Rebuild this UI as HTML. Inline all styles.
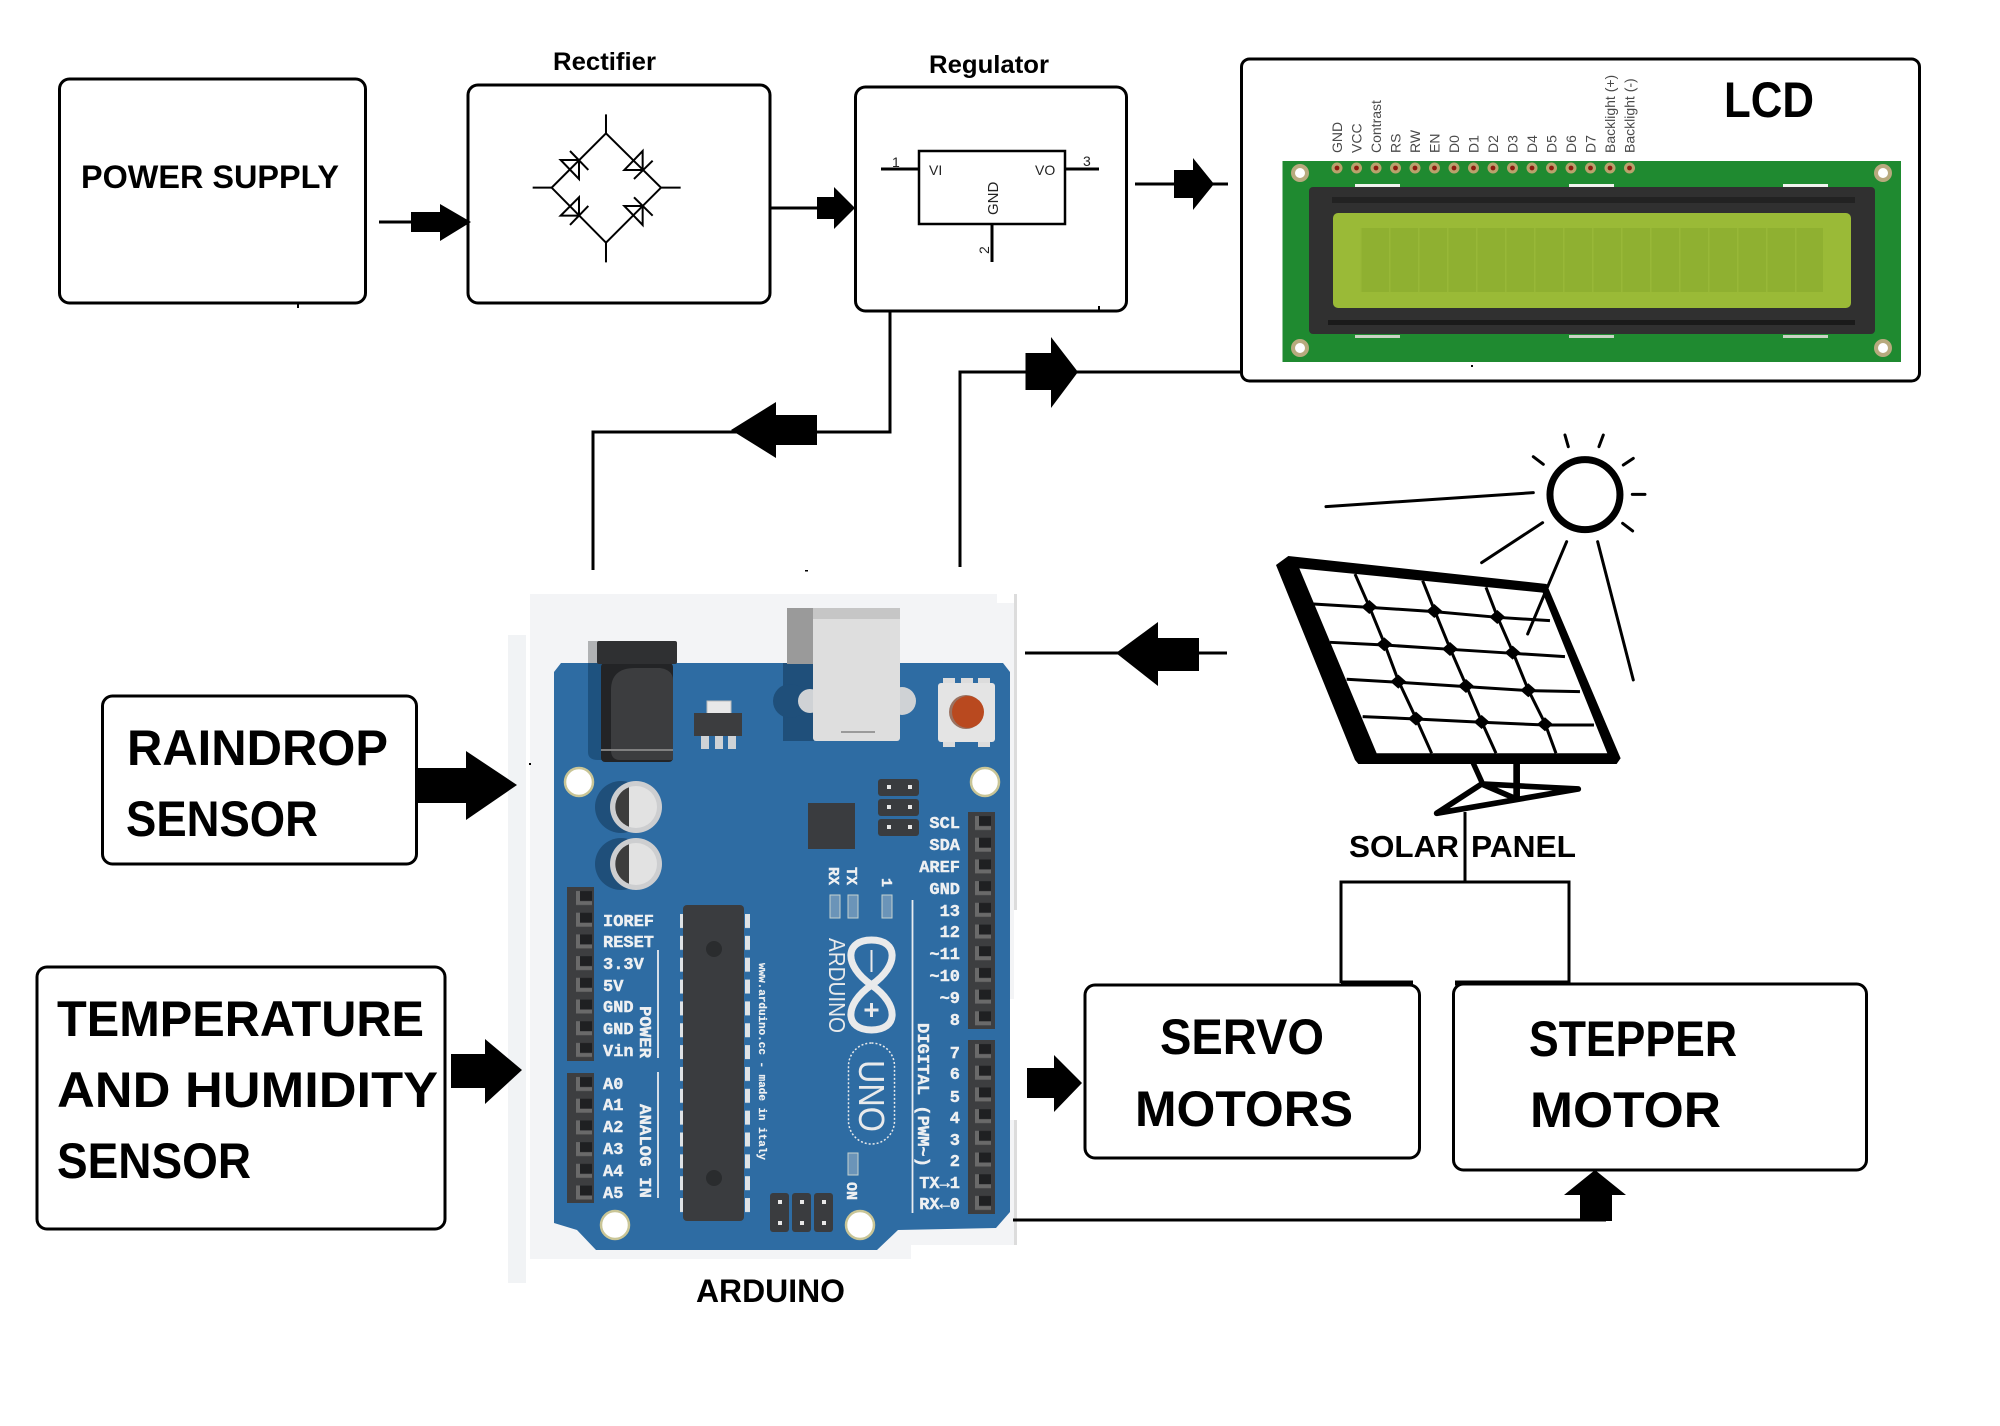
<!DOCTYPE html>
<html lang="en"><head><meta charset="utf-8"><title>Arduino block diagram</title>
<style>html,body{margin:0;padding:0;background:#fff}svg{display:block}
.b{font-family:"Liberation Sans",sans-serif;font-weight:bold;fill:#000}
.m{font-family:"Liberation Mono",monospace;font-weight:bold;fill:#eef0f2;font-size:17px;stroke:#eef0f2;stroke-width:.4}
.e{text-anchor:end}
.l{font-family:"Liberation Sans",sans-serif;font-size:14px;fill:#4a4a4a}
.t{font-family:"Liberation Sans",sans-serif;font-size:15px;fill:#222}
.box{fill:#fff;stroke:#000;stroke-width:3}
.w{fill:none;stroke:#000;stroke-width:3}
</style></head><body>
<svg xmlns="http://www.w3.org/2000/svg" width="2000" height="1426" viewBox="0 0 2000 1426">
<defs>
<pattern id="hd" x="968" y="812" width="27" height="21.7" patternUnits="userSpaceOnUse">
<rect width="27" height="21.7" fill="#3d3e40"/><rect x="7" y="4" width="16" height="14" fill="#6a6a6a"/><rect x="11" y="4" width="12" height="10" fill="#1f2022"/>
</pattern>
<pattern id="hd2" x="968" y="1040" width="27" height="21.7" patternUnits="userSpaceOnUse">
<rect width="27" height="21.7" fill="#3d3e40"/><rect x="7" y="4" width="16" height="14" fill="#6a6a6a"/><rect x="11" y="4" width="12" height="10" fill="#1f2022"/>
</pattern>
<pattern id="hl" x="567" y="887" width="27" height="21.7" patternUnits="userSpaceOnUse">
<rect width="27" height="21.7" fill="#3d3e40"/><rect x="9" y="4" width="16" height="14" fill="#6a6a6a"/><rect x="13" y="4" width="12" height="10" fill="#1f2022"/>
</pattern>
<pattern id="hl2" x="567" y="1073" width="27" height="21.7" patternUnits="userSpaceOnUse">
<rect width="27" height="21.7" fill="#3d3e40"/><rect x="9" y="4" width="16" height="14" fill="#6a6a6a"/><rect x="13" y="4" width="12" height="10" fill="#1f2022"/>
</pattern>
<pattern id="cp" x="680" y="912" width="71" height="21.85" patternUnits="userSpaceOnUse">
<rect x="0" y="2" width="4" height="14" fill="#dfe3e6"/><rect x="65" y="2" width="5" height="14" fill="#dfe3e6"/>
</pattern>
<pattern id="lp" x="1327.5" y="160" width="19.5" height="20" patternUnits="userSpaceOnUse">
<circle cx="9.5" cy="8" r="5.5" fill="#b9a26c"/><circle cx="9.5" cy="8" r="2.4" fill="#8e1c10"/>
</pattern>
<pattern id="st" x="1360" y="228" width="29" height="64" patternUnits="userSpaceOnUse">
<rect width="29" height="64" fill="#8fb031"/><rect x="0" width="1.5" height="64" fill="#98b838"/>
</pattern>
<path id="nd" d="M-24 0L0-21L24 0L0 21Z"/>
</defs>

<rect width="2000" height="1426" fill="#fff"/>

<!-- Power supply -->
<rect class="box" x="59.5" y="79" width="306" height="224" rx="10"/>
<line x1="298" y1="302" x2="298" y2="308" stroke="#000" stroke-width="2"/>
<text class="b" x="81" y="188" font-size="32" textLength="258" lengthAdjust="spacingAndGlyphs">POWER SUPPLY</text>

<!-- Rectifier -->
<text class="b" x="553" y="70" font-size="25" textLength="103" lengthAdjust="spacingAndGlyphs">Rectifier</text>
<rect class="box" x="468" y="85" width="302" height="218" rx="10"/>
<g transform="translate(520,100) scale(.3333)" fill="none" stroke="#000" stroke-width="6">
<path d="M258 43V100L423 263L258 428V487M258 100L95 263L258 428M38 263H95M423 263H482"/>
<path d="M122 180H177V237ZM150 153L205 210M368 153V210H313ZM342 237L398 182M177 292V347H122ZM205 318L150 375M313 318H368V375ZM342 292L398 347"/>
</g>

<!-- Regulator -->
<text class="b" x="929" y="73" font-size="25" textLength="120" lengthAdjust="spacingAndGlyphs">Regulator</text>
<rect class="box" x="855.500" y="87" width="271" height="224" rx="10"/>
<line x1="1099" y1="306" x2="1099" y2="312" stroke="#000" stroke-width="2"/>
<rect x="919" y="151" width="146" height="73" fill="#fff" stroke="#000" stroke-width="2.5"/>
<path d="M881 169H919M1065 169H1099M992 224V262" class="w" stroke-width="2.5"/>
<text class="t" x="892" y="167" style="font-size:14px">1</text>
<text class="t" x="929" y="175" style="font-size:14px">VI</text>
<text class="t" x="1035" y="175" style="font-size:14px">VO</text>
<text class="t" x="1083" y="166" style="font-size:14px">3</text>
<text class="t" transform="translate(998,215) rotate(-90)" style="font-size:15px">GND</text>
<text class="t" transform="translate(989,254) rotate(-90)" style="font-size:14px">2</text>

<!-- top arrows -->
<path d="M379 222H415" class="w" stroke-width="4"/>
<polygon points="411,212 440,212 440,204 471,222 440,241 440,232 411,232"/>
<path d="M770 208H820" class="w" stroke-width="4"/>
<polygon points="817,197 834,197 834,187 855,208 834,229 834,219 817,219"/>
<path d="M1135 184H1228" class="w" stroke-width="3"/>
<polygon points="1174,170 1193,170 1193,158 1214,184 1193,210 1193,198 1174,198"/>

<!-- regulator to Arduino -->
<path d="M890 311V432H593V570" class="w"/>
<polygon points="731,430 776,402 776,415 817,415 817,445 776,445 776,458"/>
<rect x="805" y="570" width="3" height="1.500"/>
<!-- Arduino to LCD -->
<path d="M960 567V372H1241" class="w"/>
<polygon points="1025.500,353 1051,353 1051,337 1078,372 1051,408 1051,390 1025.500,390"/>

<!-- LCD -->
<rect class="box" x="1241.500" y="59" width="678" height="322" rx="8"/>
<rect x="1282.500" y="161" width="618.500" height="201" fill="#1f8a30"/>
<rect x="1309" y="187" width="566" height="147" rx="4" fill="#303030"/>
<rect x="1332" y="197" width="523" height="6" fill="#222"/>
<rect x="1328" y="320" width="527" height="5" fill="#1a1a1a"/>
<rect x="1333" y="213" width="518" height="95" rx="5" fill="#9aba37"/>
<rect x="1360" y="228" width="463" height="64" fill="url(#st)"/>
<g fill="#f1f3ee"><rect x="1355" y="184" width="45" height="3"/><rect x="1569" y="184" width="45" height="3"/><rect x="1783" y="184" width="45" height="3"/></g>
<g fill="#c9d2c4"><rect x="1355" y="335" width="45" height="3"/><rect x="1569" y="335" width="45" height="3"/><rect x="1783" y="335" width="45" height="3"/></g>
<g fill="#fff" stroke="#b8aa7e" stroke-width="4"><circle cx="1300" cy="173" r="7"/><circle cx="1883" cy="173" r="7"/><circle cx="1300" cy="348" r="7"/><circle cx="1883" cy="348" r="7"/></g>
<rect x="1327.5" y="160" width="312" height="20" fill="url(#lp)"/>
<rect x="1471" y="365" width="2" height="2"/>
<text class="l" transform="translate(1342,153) rotate(-90)">GND</text>
<text class="l" transform="translate(1361.5,153) rotate(-90)">VCC</text>
<text class="l" transform="translate(1381,153) rotate(-90)">Contrast</text>
<text class="l" transform="translate(1400.5,153) rotate(-90)">RS</text>
<text class="l" transform="translate(1420,153) rotate(-90)">RW</text>
<text class="l" transform="translate(1439.5,153) rotate(-90)">EN</text>
<text class="l" transform="translate(1459,153) rotate(-90)">D0</text>
<text class="l" transform="translate(1478.5,153) rotate(-90)">D1</text>
<text class="l" transform="translate(1498,153) rotate(-90)">D2</text>
<text class="l" transform="translate(1517.5,153) rotate(-90)">D3</text>
<text class="l" transform="translate(1537,153) rotate(-90)">D4</text>
<text class="l" transform="translate(1556.5,153) rotate(-90)">D5</text>
<text class="l" transform="translate(1576,153) rotate(-90)">D6</text>
<text class="l" transform="translate(1595.5,153) rotate(-90)">D7</text>
<text class="l" transform="translate(1615,153) rotate(-90)">Backlight (+)</text>
<text class="l" transform="translate(1634.5,153) rotate(-90)">Backlight (-)</text>
<text class="b" x="1724" y="117" font-size="50" textLength="90" lengthAdjust="spacingAndGlyphs">LCD</text>

<!-- Arduino backgrounds -->
<rect x="508" y="635" width="18" height="648" fill="#f1f3f5"/>
<rect x="530" y="594" width="484" height="665" fill="#f3f4f6"/>
<rect x="911" y="1245" width="110" height="16" fill="#fff"/>
<rect x="997" y="594" width="17" height="9" fill="#fff"/>
<rect x="1014" y="594" width="3" height="316" fill="#dcdcdc"/>
<rect x="1014" y="1120" width="3" height="125" fill="#dcdcdc"/>
<polygon fill="#2e6ca3" points="554,672 561,663 1003,663 1010,672 1010,1212 996,1228 898,1230 877,1250 596,1250 577,1230 554,1223"/>
<rect x="1010" y="999" width="7" height="121" fill="#fff"/>

<!-- jack -->
<rect x="588" y="641" width="12" height="22" fill="#b0b2b4"/>
<path d="M588 663H605V760H598Q588 760 588 752Z" fill="#1e527f"/>
<rect x="601" y="663" width="72" height="99" rx="4" fill="#232426"/>
<path d="M611 690Q611 668 635 668H660Q673 670 673 680V760H620Q611 760 611 750Z" fill="#3c3d3f"/>
<rect x="597" y="641" width="80" height="23" rx="2" fill="#2f3032"/>
<rect x="601" y="749" width="72" height="2" fill="#808080"/>

<!-- small regulator -->
<rect x="707" y="701" width="24" height="13" fill="#e8e8e8" stroke="#bbb"/>
<rect x="694" y="713" width="48" height="23" fill="#3c3d3f"/>
<g fill="#cfd3d6"><rect x="701" y="736" width="8" height="13"/><rect x="715" y="736" width="8" height="13"/><rect x="728" y="736" width="8" height="13"/></g>

<!-- USB -->
<rect x="783" y="663" width="31" height="78" fill="#1f4f7a"/>
<circle cx="790" cy="701" r="17" fill="#1f4f7a"/>
<circle cx="810" cy="701" r="12" fill="#cfd2d5"/>
<circle cx="902" cy="701" r="14" fill="#cfd2d5"/>
<rect x="787" y="608" width="30" height="56" fill="#9a9a9a"/>
<rect x="813" y="608" width="87" height="133" rx="3" fill="#dedede"/>
<rect x="813" y="608" width="87" height="11" fill="#c6c6c6"/>
<rect x="841" y="731" width="34" height="2" fill="#9a9a9a"/>

<!-- reset -->
<g fill="#dcdcdc"><rect x="943" y="678" width="12" height="6"/><rect x="961" y="678" width="12" height="6"/><rect x="978" y="678" width="12" height="6"/><rect x="943" y="741" width="12" height="6"/><rect x="978" y="741" width="12" height="6"/></g>
<rect x="938" y="683" width="57" height="59" rx="3" fill="#e4e4e4"/>
<circle cx="966" cy="712" r="17" fill="#9a7261"/>
<circle cx="968" cy="712" r="16" fill="#b9491f"/>

<!-- mounting holes -->
<g fill="#fff" stroke="#c9c596" stroke-width="2.5"><circle cx="579" cy="782" r="14"/><circle cx="985" cy="782" r="14"/><circle cx="615" cy="1225" r="14"/><circle cx="860" cy="1225" r="14"/></g>

<!-- capacitors -->
<circle cx="621" cy="807" r="26" fill="#1f4f7a"/><circle cx="621" cy="864" r="26" fill="#1f4f7a"/>
<circle cx="636" cy="807" r="26" fill="#cdced0"/><circle cx="636" cy="807" r="21" fill="#e2e2e2"/><path d="M629 787.300A21 21 0 0 0 629 826.700Z" fill="#3d3d3d"/>
<circle cx="636" cy="864" r="26" fill="#cdced0"/><circle cx="636" cy="864" r="21" fill="#e2e2e2"/><path d="M629 844.300A21 21 0 0 0 629 883.700Z" fill="#3d3d3d"/>

<!-- small chip -->
<rect x="808" y="803" width="47" height="46" fill="#3a3c3f"/>

<!-- ICSP top -->
<g fill="#3a3c3f"><rect x="878" y="779" width="41" height="17" rx="3"/><rect x="878" y="799" width="41" height="17" rx="3"/><rect x="878" y="819" width="41" height="17" rx="3"/></g>
<g fill="#e8e8e8"><rect x="887" y="785" width="4" height="4"/><rect x="908" y="785" width="4" height="4"/><rect x="887" y="805" width="4" height="4"/><rect x="908" y="805" width="4" height="4"/><rect x="887" y="825" width="4" height="4"/><rect x="908" y="825" width="4" height="4"/></g>

<!-- headers -->
<rect x="968" y="812" width="27" height="217" fill="url(#hd)"/>
<rect x="968" y="1040" width="27" height="174" fill="url(#hd2)"/>
<rect x="567" y="887" width="27" height="174" fill="url(#hl)"/>
<rect x="567" y="1073" width="27" height="130" fill="url(#hl2)"/>

<!-- main chip -->
<rect x="680" y="912" width="71" height="306" fill="url(#cp)"/>
<rect x="683" y="905" width="61" height="316" rx="4" fill="#3a3c3f"/>
<circle cx="714" cy="949" r="8" fill="#2a2c2e"/><circle cx="714" cy="1178" r="8" fill="#2a2c2e"/>

<!-- board labels -->
<text class="m e" x="960" y="828">SCL</text><text class="m e" x="960" y="850">SDA</text><text class="m e" x="960" y="872">AREF</text><text class="m e" x="960" y="894">GND</text>
<text class="m e" x="960" y="916">13</text><text class="m e" x="960" y="937">12</text><text class="m e" x="960" y="959">~11</text><text class="m e" x="960" y="981">~10</text><text class="m e" x="960" y="1003">~9</text><text class="m e" x="960" y="1025">8</text>
<text class="m e" x="960" y="1058">7</text><text class="m e" x="960" y="1079">6</text><text class="m e" x="960" y="1102">5</text><text class="m e" x="960" y="1123">4</text><text class="m e" x="960" y="1145">3</text><text class="m e" x="960" y="1166">2</text>
<text class="m e" x="960" y="1188">TX→1</text><text class="m e" x="960" y="1209">RX←0</text>
<text class="m" x="603" y="926">IOREF</text><text class="m" x="603" y="947">RESET</text><text class="m" x="603" y="969">3.3V</text><text class="m" x="603" y="991">5V</text><text class="m" x="603" y="1012">GND</text><text class="m" x="603" y="1034">GND</text><text class="m" x="603" y="1056">Vin</text>
<text class="m" x="603" y="1089">A0</text><text class="m" x="603" y="1110">A1</text><text class="m" x="603" y="1132">A2</text><text class="m" x="603" y="1154">A3</text><text class="m" x="603" y="1176">A4</text><text class="m" x="603" y="1198">A5</text>
<text class="m" transform="translate(640,1006) rotate(90)" textLength="52" lengthAdjust="spacingAndGlyphs">POWER</text>
<text class="m" transform="translate(640,1104) rotate(90)" textLength="94" lengthAdjust="spacingAndGlyphs">ANALOG IN</text>
<text class="m" transform="translate(918,1023) rotate(90)" textLength="144" lengthAdjust="spacingAndGlyphs">DIGITAL (PWM~)</text>
<text class="m" transform="translate(829,867) rotate(90)" style="font-size:15px">RX</text>
<text class="m" transform="translate(847,867) rotate(90)" style="font-size:15px">TX</text>
<text class="m" transform="translate(882,878) rotate(90)" style="font-size:15px">1</text>
<text class="m" transform="translate(847,1182) rotate(90)" style="font-size:15px">ON</text>
<text class="m" transform="translate(759,963) rotate(90)" style="font-size:11px;stroke-width:.2" textLength="197" lengthAdjust="spacingAndGlyphs">www.arduino.cc - made in italy</text>
<path d="M658 950V1058M658 1072V1198M912.500 900V1213" fill="none" stroke="#e8ecef" stroke-width="1.800"/>

<!-- LEDs -->
<g fill="#6b94b8" stroke="#c5d2cf" stroke-width="1"><rect x="830" y="895" width="10" height="23"/><rect x="848" y="895" width="10" height="23"/><rect x="882" y="895" width="10" height="23"/><rect x="848" y="1153" width="10" height="22"/></g>

<!-- Arduino logo -->
<path d="M871.500 985C900 965 898 940 871.500 940C845 940 843 965 871.500 985C900 1005 898 1030 871.500 1030C845 1030 843 1005 871.500 985Z" fill="none" stroke="#e9eaeb" stroke-width="7"/>
<path d="M871.500 950V972" stroke="#e9eaeb" stroke-width="2" fill="none"/>
<path d="M871.500 1003V1017M864.500 1010H878.500" stroke="#e9eaeb" stroke-width="3" fill="none"/>
<text transform="translate(829,938) rotate(90)" font-family="Liberation Sans, sans-serif" font-size="23" fill="#e9eaeb" textLength="95" lengthAdjust="spacingAndGlyphs">ARDUINO</text>
<rect x="848.500" y="1043" width="46" height="101" rx="23" fill="none" stroke="#e9eaeb" stroke-width="1.500" stroke-dasharray="2 2"/>
<text transform="translate(859,1060) rotate(90)" font-family="Liberation Sans, sans-serif" font-size="36" fill="#e9eaeb" textLength="72" lengthAdjust="spacingAndGlyphs">UNO</text>

<!-- bottom pins -->
<g fill="#3a3c3f"><rect x="770" y="1193" width="19" height="39" rx="3"/><rect x="792" y="1193" width="19" height="39" rx="3"/><rect x="814" y="1193" width="19" height="39" rx="3"/></g>
<g fill="#e8e8e8"><rect x="778" y="1200" width="4" height="4"/><rect x="800" y="1200" width="4" height="4"/><rect x="822" y="1200" width="4" height="4"/><rect x="778" y="1221" width="4" height="4"/><rect x="800" y="1221" width="4" height="4"/><rect x="822" y="1221" width="4" height="4"/></g>

<text class="b" x="696" y="1302" font-size="32" textLength="149" lengthAdjust="spacingAndGlyphs">ARDUINO</text>

<!-- Raindrop -->
<rect class="box" x="102.500" y="696" width="314" height="168" rx="10" stroke-width="2.500"/>
<text class="b" x="127" y="765" font-size="50" textLength="261" lengthAdjust="spacingAndGlyphs">RAINDROP</text>
<text class="b" x="126" y="836" font-size="50" textLength="192" lengthAdjust="spacingAndGlyphs">SENSOR</text>
<polygon points="416,768 466,768 466,751 517,785 466,820 466,803 416,803"/>
<rect x="529" y="763" width="2" height="2"/>

<!-- Temperature -->
<rect class="box" x="37" y="967" width="408" height="262" rx="10" stroke-width="2.500"/>
<text class="b" x="57" y="1036" font-size="50" textLength="367" lengthAdjust="spacingAndGlyphs">TEMPERATURE</text>
<text class="b" x="57" y="1107" font-size="50" textLength="381" lengthAdjust="spacingAndGlyphs">AND HUMIDITY</text>
<text class="b" x="57" y="1178" font-size="50" textLength="194" lengthAdjust="spacingAndGlyphs">SENSOR</text>
<polygon points="451,1054 485,1054 485,1039 522,1070 485,1104 485,1088 451,1088"/>

<!-- Solar arrow -->
<path d="M1025 653H1227" class="w" stroke-width="3"/>
<polygon points="1116,653 1158,622 1158,638 1199,638 1199,671 1158,671 1158,686"/>

<!-- Solar panel -->
<g transform="translate(1250,430) scale(.3333)">
<g stroke="#000" stroke-linecap="round" fill="none">
<circle cx="1005" cy="194" r="105" stroke-width="21"/>
<path stroke-width="9" d="M945 15L955 50M1060 15L1047 50M850 80L880 103M1150 85L1120 105M1147 193H1185M1118 280L1148 303M228 230L850 188M695 398L878 278M1043 335L1150 750"/>
</g>
<polygon points="78,405 115,378 890,462 1112,985 1100,1002 325,1002 315,990"/>
<polygon fill="#fff" points="148,415 878,488 1072,970 380,970"/>
<g fill="none" stroke="#000" stroke-width="9">
<path d="M315 432L358 530L403 640L445 752L498 865L545 970M518 452L553 540L600 655L648 765L695 875L738 970M708 472L742 560L788 665L835 780L885 880L918 970"/>
<path d="M190 522L358 532L553 545L742 562L900 572M240 637L403 645L600 658L788 670L945 680M290 748L445 757L648 770L835 782L990 785M338 860L498 867L695 877L885 885L1032 885"/>
</g>
<use href="#nd" x="358" y="531"/><use href="#nd" x="553" y="543"/><use href="#nd" x="742" y="561"/>
<use href="#nd" x="403" y="643"/><use href="#nd" x="600" y="657"/><use href="#nd" x="788" y="668"/>
<use href="#nd" x="445" y="755"/><use href="#nd" x="648" y="768"/><use href="#nd" x="835" y="781"/>
<use href="#nd" x="498" y="866"/><use href="#nd" x="695" y="876"/><use href="#nd" x="885" y="883"/>
<path d="M950 335L833 612" stroke="#000" stroke-width="9" stroke-linecap="round" fill="none"/>
<g fill="none" stroke="#000" stroke-linejoin="round" stroke-linecap="round">
<path d="M670 1000L695 1055" stroke-width="16"/><path d="M800 1000V1100" stroke-width="20"/>
<path d="M695 1062L985 1077L560 1150L695 1062L795 1105" stroke-width="17"/>
</g>
</g>
<text class="b" x="1349" y="857" font-size="31" textLength="110" lengthAdjust="spacingAndGlyphs">SOLAR</text>
<text class="b" x="1471" y="857" font-size="31" textLength="105" lengthAdjust="spacingAndGlyphs">PANEL</text>
<path d="M1465 812V882M1341 983V882H1569V983" class="w" fill="none"/>

<!-- Motors -->
<rect class="box" x="1085" y="985" width="334.500" height="173" rx="10" stroke-width="2.500"/>
<rect class="box" x="1453.500" y="984" width="413" height="186" rx="10" stroke-width="2.500"/>
<path d="M1341 983H1413M1455 983H1569" stroke="#000" stroke-width="5" fill="none"/>
<text class="b" x="1160" y="1054" font-size="50" textLength="164" lengthAdjust="spacingAndGlyphs">SERVO</text>
<text class="b" x="1135" y="1126" font-size="50" textLength="218" lengthAdjust="spacingAndGlyphs">MOTORS</text>
<text class="b" x="1529" y="1056" font-size="50" textLength="208" lengthAdjust="spacingAndGlyphs">STEPPER</text>
<text class="b" x="1530" y="1127" font-size="50" textLength="191" lengthAdjust="spacingAndGlyphs">MOTOR</text>
<polygon points="1027,1068 1054,1068 1054,1055 1082,1083 1054,1112 1054,1098 1027,1098"/>
<path d="M1013 1220H1606" class="w" stroke-width="3"/>
<polygon points="1595,1170 1626,1195 1612,1195 1612,1221 1580,1221 1580,1195 1564,1195"/>
</svg>
</body></html>
